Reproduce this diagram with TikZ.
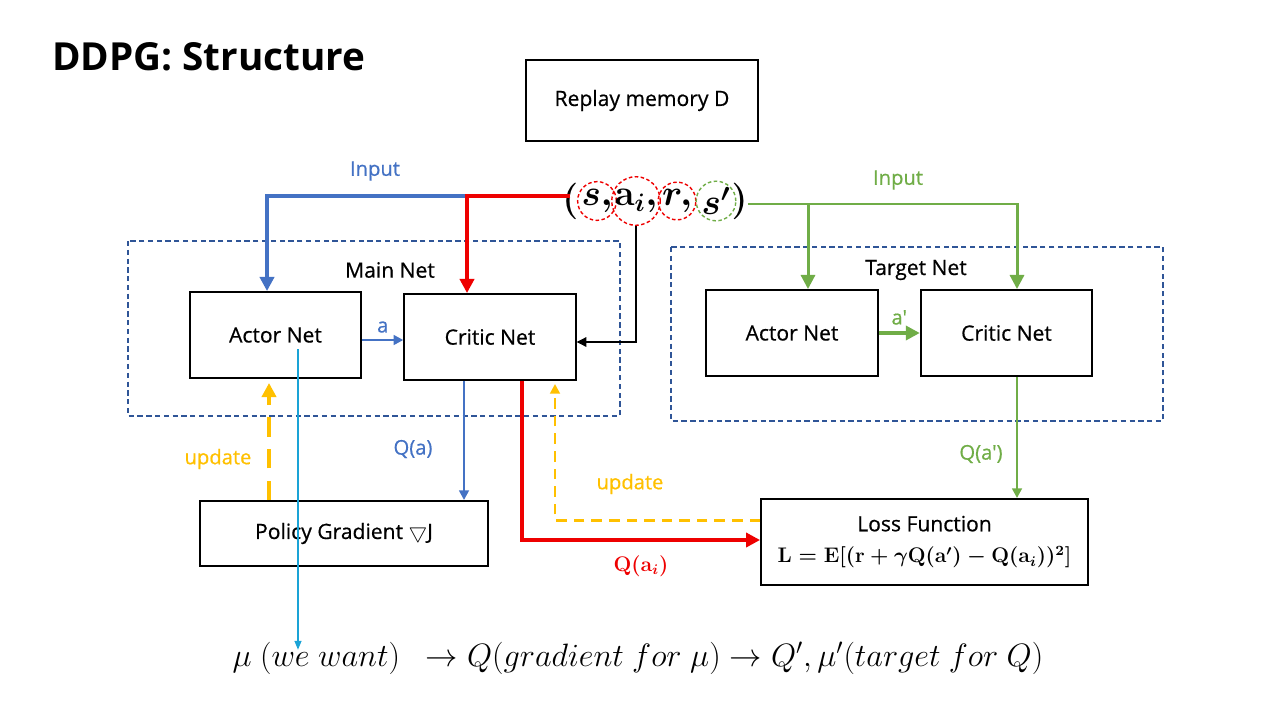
\documentclass[tikz,border=0pt]{standalone}
\usepackage{amsmath, amssymb, bm}
\usepackage{graphicx}
\usepackage{fontspec}
\setmainfont{Open Sans}
\newfontfamily\medfont{Open Sans}[FakeBold=0.6]
\usetikzlibrary{arrows.meta, positioning}
\definecolor{inblue}{HTML}{4472C4}
\definecolor{inred}{HTML}{EE0000}
\definecolor{ingreen}{HTML}{70AD47}
\definecolor{upyellow}{HTML}{FFC000}
\definecolor{frameblue}{HTML}{2F5597}
\definecolor{linkcyan}{HTML}{1AA3D6}
\tikzset{
    netbox/.style={draw, rectangle, line width=1.1pt, minimum width=3.43cm, minimum height=1.72cm, font=\fontsize{12}{14}\selectfont\medfont},
    netframe/.style={draw=frameblue, line width=0.9pt, dash pattern=on 3pt off 2pt},
    tup/.style={circle, minimum size=0.74cm, inner sep=0pt, line width=0.8pt, dash pattern=on 2pt off 1.4pt},
    lbl/.style={font=\fontsize{11.5}{13}\selectfont\medfont},
    bigtip/.style={-{Triangle[length=8pt, width=8pt]}},
    smalltip/.style={-{Triangle[length=5.5pt, width=5.5pt]}},
}

\begin{document}
\begin{tikzpicture}[x=0.02cm, y=-0.02cm]
    \useasboundingbox (0,0) rectangle (1280,720);

    \node[anchor=west, font=\fontsize{22}{26}\selectfont\bfseries] (title) at (46,57) {DDPG: Structure};

    \node[netbox, minimum width=4.64cm, minimum height=1.62cm] (replay) at (642,100.5) {Replay memory D};

    % main net / target net frames
    \draw[netframe] (128,241) rectangle (620,416);
    \draw[netframe] (671,247) rectangle (1163,421);
    \node[font=\fontsize{12}{14}\selectfont\medfont] (mainlbl) at (390,270) {Main Net};
    \node[font=\fontsize{12}{14}\selectfont\medfont] (targetlbl) at (916,270) {Target Net};

    \node[netbox] (actorM) at (275.5,335) {Actor Net};
    \node[netbox] (criticM) at (490,337) {Critic Net};
    \node[netbox] (actorT) at (792,333) {Actor Net};
    \node[netbox] (criticT) at (1006.5,333) {Critic Net};
    \node[netbox, minimum width=5.76cm, minimum height=1.3cm] (policy) at (344,533.5) {Policy Gradient $\bigtriangledown$J};
    \node[netbox, minimum width=6.54cm, align=center] (loss) at (924.5,542) {Loss Function\\[4pt]
        {\fontsize{12}{14}\selectfont\boldmath$\mathbf{L}=\mathbf{E}[(\mathbf{r}+\gamma\mathbf{Q}(\mathbf{a}')-\mathbf{Q}(\mathbf{a}_i))^2]$}};

    % sample (s, a_i, r, s')
    \begin{scope}[every node/.append style={font=\fontsize{20}{24}\selectfont\boldmath}]
        \node[tup, draw=inred] (ts) at (597,201) {$s,$};
        \node[tup, draw=inred] (ta) at (636,201) {$\mathbf{a}_i,$};
        \node[tup, draw=inred] (tr) at (677,201) {$r,$};
        \node[tup, draw=ingreen] (tsp) at (716,201) {$s'$};
        \node[left=-1pt of ts, inner sep=0pt] (lpar) {$($};
        \node[right=-3pt of tsp, inner sep=0pt] (rpar) {$)$};
    \end{scope}
    \coordinate (feedL) at ([yshift=0.1cm]lpar.center);
    \coordinate (feedR) at ([yshift=-0.06cm]rpar.east);

    % inputs
    \draw[inblue, line width=2.3pt, bigtip] ([xshift=-0.46cm]criticM.north |- feedL) -| ([xshift=-0.17cm]actorM.north);
    \draw[inred, line width=2.8pt, bigtip] (feedL) -| ([xshift=-0.46cm]criticM.north);
    \node[lbl, text=inblue] (inlblM) at (375,171) {Input};
    \draw[line width=0.6pt, smalltip] (ta.south) |- ([yshift=-0.1cm]criticM.east);
    \draw[ingreen, line width=1.7pt, bigtip] (feedR) -| ([xshift=0.21cm]criticT.north);
    \draw[ingreen, line width=1.7pt, bigtip] ([xshift=0.32cm]actorT.north |- feedR) -- ([xshift=0.32cm]actorT.north);
    \node[lbl, text=ingreen] (inlblT) at (898,180) {Input};

    % actions
    \draw[inblue, line width=1.7pt, smalltip] ([yshift=-0.1cm]actorM.east) -- ([yshift=-0.1cm]actorM.east -| criticM.west) node[midway, above, lbl, text=inblue] {a};
    \draw[ingreen, line width=2.8pt, bigtip] (actorT.east) -- (criticT.west) node[midway, above, lbl, text=ingreen] {a'};

    % Q values
    \draw[inblue, line width=1.4pt, smalltip] ([xshift=-0.52cm]criticM.south) -- ([xshift=-0.52cm]criticM.south |- policy.north);
    \node[lbl, text=inblue] (qa) at (413,449) {Q(a)};
    \draw[inred, line width=2.8pt, bigtip] ([xshift=0.64cm]criticM.south) |- ([yshift=0.04cm]loss.west);
    \node[text=inred, font=\fontsize{12}{14}\selectfont\boldmath] (qai) at (641,566) {$\mathbf{Q}(\mathbf{a}_i)$};
    \draw[ingreen, line width=1.4pt, smalltip] ([xshift=0.21cm]criticT.south) -- ([xshift=0.21cm]criticT.south |- loss.north);
    \node[lbl, text=ingreen] (qat) at (981,454) {Q(a')};

    % updates
    \draw[upyellow, line width=2.8pt, dash pattern=on 11pt off 7pt, bigtip] ([xshift=-1.5cm]policy.north) -- ([xshift=-1.5cm, yshift=-0.08cm]policy.north |- actorM.south);
    \node[lbl, text=upyellow] (upA) at (218,459) {update};
    \draw[upyellow, line width=1.7pt, dash pattern=on 6pt off 4pt, smalltip] ([yshift=0.44cm]loss.west) -| ([xshift=1.3cm, yshift=-0.06cm]criticM.south);
    \node[lbl, text=upyellow] (upC) at (630,484) {update};

    % what we want
    \node[font=\fontsize{17.28}{21}\selectfont] (goal) at (638,658) {\scalebox{1.065}{$\mu\ (we\ want)\ \ \rightarrow Q(gradient\ for\ \mu) \rightarrow Q',\mu'(target\ for\ Q)$}};
    \draw[linkcyan, line width=0.6pt, -{Triangle[length=5pt, width=4pt]}] ([xshift=0.45cm, yshift=-0.28cm]actorM.center) -- ([xshift=0.45cm, yshift=-0.28cm]actorM.center |- goal.north);

\end{tikzpicture}
\end{document}
